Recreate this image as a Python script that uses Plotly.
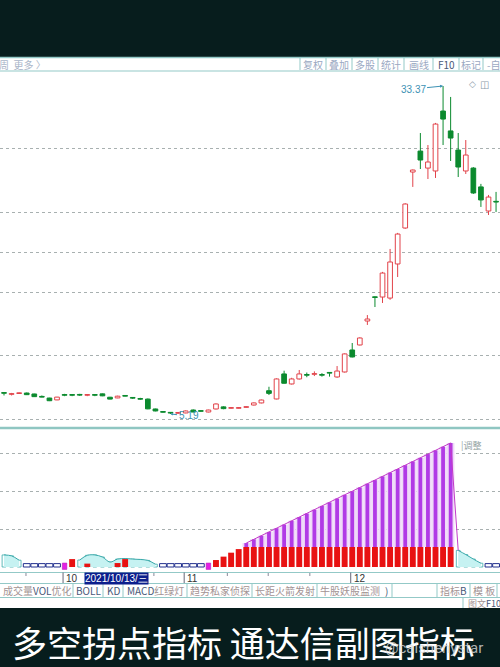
import plotly.graph_objects as go

W, H = 500, 667

# ---------------- data: 66 daily candles (Sep-Dec 2021) ----------------
opens = [7.00, 6.88, 6.95, 6.99, 6.91, 6.67, 6.56, 6.40, 6.84, 6.83,
         6.85, 6.80, 6.86, 6.92, 6.63, 6.57, 6.75, 6.58, 6.48, 6.47,
         5.62, 5.38, 5.30, 5.25, 5.28, 5.53, 5.45, 5.36, 5.62, 5.80,
         5.68, 5.68, 5.76, 5.96, 6.14, 7.19, 6.48, 8.63, 7.77, 8.20,
         8.58, 8.60, 8.58, 8.72, 8.37, 8.80, 10.69, 11.12, 13.18, 15.26,
         15.24, 15.15, 18.08, 21.17, 25.98, 27.78, 26.32, 26.07, 31.22, 29.51,
         27.87, 26.07, 26.32, 24.70, 22.63, 23.45]
highs = [7.02, 7.00, 7.04, 7.03, 6.93, 6.78, 6.58, 6.66, 6.92, 6.90,
         6.92, 6.88, 6.90, 6.95, 6.66, 6.76, 6.78, 6.64, 6.58, 6.52,
         5.65, 5.42, 5.36, 5.36, 5.50, 5.58, 5.48, 5.56, 6.10, 5.85,
         5.76, 5.76, 5.85, 6.18, 6.43, 7.53, 8.25, 8.91, 8.30, 8.97,
         8.75, 8.85, 8.70, 8.75, 9.31, 10.40, 11.29, 11.78, 13.69, 15.30,
         17.40, 19.37, 20.75, 23.30, 26.20, 29.33, 28.30, 30.20, 33.37, 32.43,
         29.33, 28.73, 26.40, 24.96, 24.01, 24.27]
lows = [6.78, 6.78, 6.92, 6.82, 6.65, 6.62, 6.30, 6.38, 6.72, 6.72,
        6.74, 6.72, 6.72, 6.72, 6.45, 6.55, 6.70, 6.48, 6.40, 5.60,
        5.42, 5.30, 5.19, 5.22, 5.25, 5.32, 5.38, 5.33, 5.58, 5.60,
        5.65, 5.65, 5.72, 5.92, 6.10, 6.82, 6.45, 7.80, 7.72, 8.15,
        8.35, 8.45, 8.40, 8.40, 8.30, 8.75, 10.05, 11.08, 12.84, 14.38,
        14.73, 15.00, 16.96, 21.10, 24.70, 26.24, 25.38, 25.47, 28.30, 26.93,
        25.55, 25.81, 24.10, 22.98, 22.29, 22.55]
closes = [6.97, 6.93, 7.00, 6.85, 6.68, 6.64, 6.33, 6.64, 6.80, 6.80,
          6.81, 6.84, 6.80, 6.75, 6.47, 6.72, 6.72, 6.55, 6.46, 5.63,
          5.45, 5.34, 5.27, 5.32, 5.45, 5.36, 5.42, 5.53, 6.05, 5.65,
          5.72, 5.72, 5.81, 6.14, 6.39, 6.96, 8.20, 7.83, 8.20, 8.63,
          8.52, 8.66, 8.52, 8.70, 8.88, 10.35, 10.09, 11.72, 13.35, 15.20,
          17.30, 18.25, 20.65, 23.23, 26.15, 27.01, 26.84, 30.10, 30.53, 28.90,
          26.41, 27.44, 24.18, 23.58, 23.83, 23.40]
high_label_idx = 58   # 33.37
low_label_idx = 22    # 5.19

# ---------------- sub-chart indicator (多空拐点) ----------------
cyan_vals = [6.4, 5.9, 3.6, None, None, None, None, None, None, None,
             3.7, 6.2, 6.4, 5.3, 2.6, 4.2, 4.5, 4.2, 4.0, 3.5,
             1.5, None, None, None, None, None, None, None, None, None,
             None, None, None, None, None, None, None, None, None, None,
             None, None, None, None, None, None, None, None, None, None,
             None, None, None, None, None, None, None, None, None, None,
             8.8, 6.6, 4.2, 2.0, None, None]
red_vals = [0, 0, 0, 0, 0, 0, 0, 0, 0, 4.2,
            0, 1.8, 0, 0, 0, 2.1, 4.2, 0, 0, 0,
            0, 0, 0, 0, 0, 0, 0, 0, 3.7, 5.5,
            7.6, 9.5, 10.6, 10.6, 10.6, 10.6, 10.6, 10.6, 10.6, 10.6,
            10.6, 10.6, 10.6, 10.6, 10.6, 10.6, 10.6, 10.6, 10.6, 10.6,
            10.6, 10.6, 10.6, 10.6, 10.6, 10.6, 10.6, 10.6, 10.6, 10.6,
            0, 0, 0, 0, 0, 0]
purple_vals = [0, 0, 0, 0, 0, 0, 0, 0, 0, 0,
               0, 0, 0, 0, 0, 0, 0, 0, 0, 0,
               0, 0, 0, 0, 0, 0, 0, 0, 0, 0,
               0, 0, 2.1, 4.1, 6.0, 8.0, 10.0, 11.9, 13.9, 15.9,
               17.8, 19.8, 21.8, 23.7, 25.7, 27.7, 29.6, 31.6, 33.6, 35.5,
               37.5, 39.5, 41.4, 43.4, 45.4, 47.3, 49.3, 51.3, 53.2, 55.2,
               0, 0, 0, 0, 0, 0]
box_vals = [None, None, None, 1.8, 1.8, 1.8, 1.8, 1.8, None, None,
            None, None, None, None, None, None, None, None, None, None,
            None, 1.8, 1.8, 1.8, 1.8, 1.8, 1.8, None, None, None,
            None, None, None, None, None, None, None, None, None, None,
            None, None, None, None, None, None, None, None, None, None,
            None, None, None, None, None, None, None, None, None, None,
            None, None, None, None, 1.8, 1.8]
square_idx = [8, 27]

# ---------------- axis labels ----------------
month_start_idx = [8, 24, 46]
month_labels = ["10", "11", "12"]
minor_tick_idx = [2.9, 19.8, 29.5, 34.9, 40.4]
cursor_idx = 11
cursor_label = "2021/10/13/三"
main_grid = [27.96, 22.46, 19.03, 15.67, 10.18, 4.68]
sub_grid = [20, 40, 60]

toolbar_labels = ["复权", "叠加", "多股", "统计", "画线", "F10", "标记", "-自"]
toolbar_centers = [313, 339, 365, 391, 419, 446, 471, 493]
toolbar_seps = [300, 326, 352, 378, 404, 433, 459, 483]
tab_labels = ["成交量VOL优化", "BOLL", "KD", "MACD红绿灯", "趋势私家侦探",
              "长距火箭发射", "牛股妖股监测", ")", "指标B", "模 板"]
tab_centers = [37, 88, 113, 155, 220, 285, 350, 386, 453, 484]
tab_seps = [73, 103, 123, 187, 252, 317, 392, 437, 470, 497]
title_text = "多空拐点指标 通达信副图指标"
watermark = "@caishenystar"

# ---------------- styles ----------------
UP_C = "#e2434a"
DN_C = "#0b8a2e"
TEAL = "#3aa9aa"
CYAN_FILL = "#c6f2f2"
RED_C = "#e81212"
PURPLE_C = "#b13ae6"
LAVENDER = "#efd9f8"
NAVY = "#22308e"
MAGENTA = "#e321e3"
LABEL_C = "#3d92b4"
DARK = "#071d1d"
LINE_C = "#93c9c7"
CJK = "Noto Sans CJK SC"

XR = [-0.53, 65.52]
YR_MAIN = [4.072, 34.66]
YR_SUB = [-2.65, 73.2]


def py(p):
    return 1 - p / H


def px(p):
    return p / W


fig = go.Figure()
idx = list(range(len(opens)))
up = [c >= o for o, c in zip(opens, closes)]
body_lo = [min(o, c) for o, c in zip(opens, closes)]
body_hi = [max(o, c) for o, c in zip(opens, closes)]

# wicks (split so they don't cross hollow bodies)
for flag, col in ((True, UP_C), (False, DN_C)):
    wx, wy = [], []
    for i in idx:
        if up[i] == flag:
            wx += [i, i, None, i, i, None]
            wy += [lows[i], body_lo[i], None, body_hi[i], highs[i], None]
    fig.add_trace(go.Scatter(x=wx, y=wy, mode="lines", line=dict(color=col, width=1),
                             hoverinfo="skip", xaxis="x", yaxis="y"))

fig.add_trace(go.Bar(
    x=idx, y=[max(h - l, 0.06) for h, l in zip(body_hi, body_lo)], base=body_lo,
    width=0.62,
    marker=dict(color=["white" if u else DN_C for u in up],
                line=dict(color=[UP_C if u else DN_C for u in up], width=1)),
    hoverinfo="skip", xaxis="x", yaxis="y"))

# ---- sub chart: cyan hills (base layer y2) ----
segments, seg = [], []
for i, v in enumerate(cyan_vals):
    if v is None:
        if seg:
            segments.append(seg)
            seg = []
    else:
        seg.append(i)
if seg:
    segments.append(seg)
for s in segments:
    fig.add_trace(go.Scatter(x=s, y=[cyan_vals[i] for i in s], mode="lines",
                             line=dict(color=TEAL, width=1, shape="spline"),
                             fill="tozeroy", fillcolor=CYAN_FILL,
                             hoverinfo="skip", xaxis="x2", yaxis="y2"))
fig.add_trace(go.Bar(x=idx, y=cyan_vals, width=0.5,
                     marker=dict(color="rgba(0,0,0,0)", line=dict(color=TEAL, width=0.8)),
                     hoverinfo="skip", xaxis="x2", yaxis="y2"))

# ---- sub chart: bars (overlay layer y3) ----
fig.add_trace(go.Bar(x=idx, y=box_vals, width=0.9,
                     marker=dict(color="white", line=dict(color=NAVY, width=1)),
                     hoverinfo="skip", xaxis="x2", yaxis="y3"))
fig.add_trace(go.Bar(x=idx, y=red_vals, width=0.78,
                     marker=dict(color=RED_C, line=dict(width=0)),
                     hoverinfo="skip", xaxis="x2", yaxis="y3"))
fig.add_trace(go.Bar(x=idx, y=purple_vals, base=red_vals, width=1.0,
                     marker=dict(color=LAVENDER, line=dict(width=0)),
                     hoverinfo="skip", xaxis="x2", yaxis="y3"))
fig.add_trace(go.Bar(x=idx, y=purple_vals, base=red_vals, width=0.5,
                     marker=dict(color=PURPLE_C, line=dict(width=0)),
                     hoverinfo="skip", xaxis="x2", yaxis="y3"))
fig.add_trace(go.Bar(x=square_idx, y=[3.4] * len(square_idx), base=[-1.3] * len(square_idx),
                     width=0.6, marker=dict(color=MAGENTA, line=dict(color="#b010b0", width=0.5)),
                     hoverinfo="skip", xaxis="x2", yaxis="y3"))
tx, ty = [], []
for i in idx:
    if purple_vals[i] > 0:
        tx.append(i)
        ty.append(red_vals[i] + purple_vals[i])
if tx and tx[-1] + 1 < len(idx) and cyan_vals[tx[-1] + 1] is not None:
    tx.append(tx[-1] + 1)
    ty.append(cyan_vals[tx[-1]])
fig.add_trace(go.Scatter(x=tx, y=ty, mode="lines", line=dict(color="#c23bc8", width=1),
                         hoverinfo="skip", xaxis="x2", yaxis="y3"))

# ---------------- shapes ----------------
shapes = []


def hline(y, color=LINE_C, width=1, x0=0, x1=1):
    shapes.append(dict(type="line", xref="paper", yref="paper", x0=x0, x1=x1,
                       y0=py(y), y1=py(y), line=dict(color=color, width=width)))


def vline(x, y0, y1, color=LINE_C, width=1):
    shapes.append(dict(type="line", xref="paper", yref="paper", x0=px(x), x1=px(x),
                       y0=py(y0), y1=py(y1), line=dict(color=color, width=width)))


shapes.append(dict(type="rect", xref="paper", yref="paper", x0=0, x1=1, y0=py(57), y1=1,
                   fillcolor=DARK, line=dict(width=0), layer="below"))
shapes.append(dict(type="rect", xref="paper", yref="paper", x0=0, x1=1, y0=0, y1=py(608),
                   fillcolor=DARK, line=dict(width=0)))
hline(57.5, width=1.5)
hline(71)
for s in toolbar_seps:
    vline(s, 58, 70)
hline(428, color="#8fc6c2", width=2.5)
hline(572.5)
hline(583.5)
hline(597.5)
for s in tab_seps:
    vline(s, 584, 597)
vline(463, 598, 608)
for m in month_start_idx:
    shapes.append(dict(type="line", xref="x2", yref="paper", x0=m - 0.2, x1=m - 0.2,
                       y0=py(572.5), y1=py(583), line=dict(color="#667", width=1)))
for t in minor_tick_idx:
    shapes.append(dict(type="line", xref="x2", yref="paper", x0=t, x1=t,
                       y0=py(573), y1=py(576), line=dict(color="#889", width=1)))

# ---------------- annotations ----------------
ann = []


def colorize(s):
    out, run, cur = [], "", None
    for ch in s:
        kind = "c" if ord(ch) > 127 else "a"
        if cur is not None and kind != cur:
            out.append((cur, run))
            run = ""
        cur = kind
        run += ch
    if run:
        out.append((cur, run))
    return "".join(
        "<span style='color:%s'>%s</span>" % ("#a39393" if k == "c" else "#4a5878", r)
        for k, r in out)


for lab, c in zip(toolbar_labels, toolbar_centers):
    ann.append(dict(xref="paper", yref="paper", x=px(c), y=py(64.5), text=lab,
                    showarrow=False, xanchor="center", yanchor="middle",
                    font=dict(family=CJK, size=10,
                              color="#4a5878" if lab.isascii() else "#9aa8c2")))
ann.append(dict(xref="paper", yref="paper", x=px(-3), y=py(64.5), text="周  更多 〉",
                showarrow=False, xanchor="left", yanchor="middle",
                font=dict(family=CJK, size=10, color="#a9b5c8")))
ann.append(dict(xref="paper", yref="paper", x=px(478), y=py(77), text="◇",
                showarrow=False, font=dict(family="DejaVu Sans", size=9, color="#8a9aaa")))
ann.append(dict(xref="paper", yref="paper", x=px(491), y=py(77), text="◫",
                showarrow=False, font=dict(family="DejaVu Sans", size=10, color="#8a9aaa")))

ann.append(dict(xref="x", yref="y", x=high_label_idx, y=highs[high_label_idx],
                text="%.2f" % highs[high_label_idx], showarrow=True, ax=-30, ay=3,
                arrowhead=2, arrowsize=0.6, arrowwidth=1, arrowcolor=LABEL_C, standoff=0,
                font=dict(family="Liberation Sans", size=10, color=LABEL_C)))
ann.append(dict(xref="x", yref="y", x=low_label_idx, y=lows[low_label_idx],
                text="%.2f" % lows[low_label_idx], showarrow=True, ax=18, ay=2,
                arrowhead=2, arrowsize=0.5, arrowwidth=1, arrowcolor=LABEL_C, standoff=0,
                font=dict(family="Liberation Sans", size=10, color=LABEL_C)))

ann.append(dict(xref="paper", yref="paper", x=px(459), y=py(445), text="|调整",
                showarrow=False, xanchor="left", yanchor="middle",
                font=dict(family=CJK, size=9, color="#93a3a3")))

for m, lab in zip(month_start_idx, month_labels):
    ann.append(dict(xref="x2", yref="paper", x=m - 0.2, y=py(578), text=lab,
                    showarrow=False, xanchor="left", yanchor="middle", xshift=1,
                    font=dict(family="Liberation Sans", size=10, color="#333")))
ann.append(dict(xref="x2", yref="paper", x=cursor_idx - 0.5, y=py(578), text=cursor_label,
                showarrow=False, xanchor="left", yanchor="middle", bgcolor="#0c1e8c",
                borderpad=0, font=dict(family="Liberation Sans", size=10, color="white")))

for lab, c in zip(tab_labels, tab_centers):
    ann.append(dict(xref="paper", yref="paper", x=px(c), y=py(590.5), text=colorize(lab),
                    showarrow=False, xanchor="center", yanchor="middle",
                    font=dict(family=CJK, size=10)))
ann.append(dict(xref="paper", yref="paper", x=px(466), y=py(603), text=colorize("图文F10"),
                showarrow=False, xanchor="left", yanchor="middle",
                font=dict(family=CJK, size=9)))

ann.append(dict(xref="paper", yref="paper", x=px(10), y=py(641), text=title_text,
                showarrow=False, xanchor="left", yanchor="middle",
                font=dict(family=CJK, size=35, color="white")))
ann.append(dict(xref="paper", yref="paper", x=px(383), y=py(648), text=watermark,
                showarrow=False, xanchor="left", yanchor="middle",
                font=dict(family="Roboto", size=15, color="rgba(220,220,220,0.8)")))

grid_style = dict(showgrid=True, gridcolor="#a8b0b0", griddash="dot", gridwidth=1,
                  showticklabels=False, ticks="", zeroline=False, showline=False)

fig.update_layout(
    width=W, height=H, margin=dict(l=0, r=0, t=0, b=0),
    paper_bgcolor="white", plot_bgcolor="white", barmode="overlay", showlegend=False,
    hovermode=False,
    xaxis=dict(domain=[0, 1], range=XR, visible=False, anchor="y"),
    yaxis=dict(domain=[py(427), py(71)], range=YR_MAIN, tickvals=main_grid, anchor="x",
               **grid_style),
    xaxis2=dict(domain=[0, 1], range=XR, visible=False, anchor="y2", matches="x"),
    yaxis2=dict(domain=[py(572), py(429)], range=YR_SUB, tickvals=sub_grid, anchor="x2",
                **grid_style),
    yaxis3=dict(range=YR_SUB, overlaying="y2", anchor="x2", visible=False),
    shapes=shapes, annotations=ann,
)

fig.write_html("out.html", config={"displayModeBar": False},
               post_script="document.body.style.margin='0';document.body.style.overflow='hidden';")
